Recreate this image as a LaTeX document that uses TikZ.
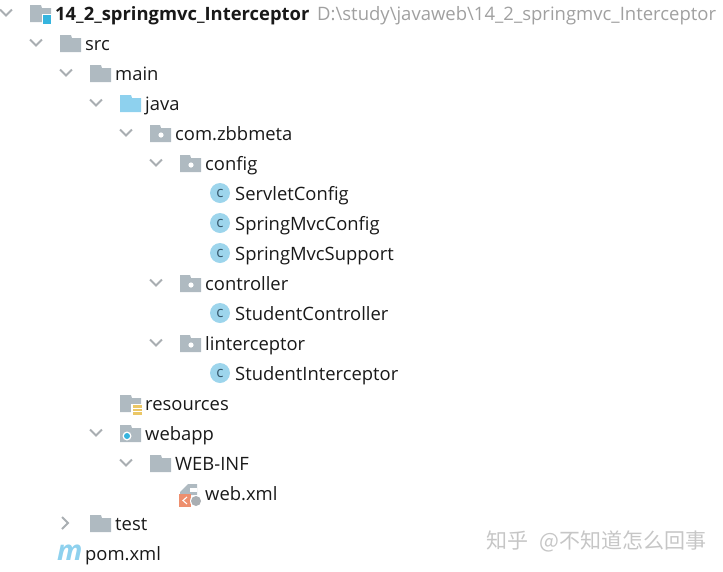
\documentclass[tikz,border=0pt]{standalone}
\usepackage{fontspec}
\setmainfont{Open Sans}
\newfontfamily\cjk{Noto Sans CJK SC}
\definecolor{foldergray}{HTML}{AFBAC1}
\definecolor{javablue}{HTML}{8ED1EE}
\definecolor{chevgray}{HTML}{A9AEB2}
\definecolor{classblue}{HTML}{9DD5EC}
\definecolor{classtext}{HTML}{35566A}
\definecolor{pathgray}{HTML}{A0A0A0}
\definecolor{markgray}{HTML}{C6C6C6}
\definecolor{xmlorange}{HTML}{EE8F6E}
\definecolor{rootblue}{HTML}{35B4DE}
\definecolor{resyellow}{HTML}{EBC766}
\tikzset{
    entry/.style={anchor=base west,inner sep=0pt,font=\fontsize{18.4pt}{20pt}\selectfont,text=black!90},
    chev/.style={draw=chevgray,line width=2pt,line cap=butt,line join=miter},
    pics/folderbox/.style={code={
        \fill[#1] (-10,-8) -- (1,-8) -- (2,-5) -- (11,-5) -- (11,9) -- (-10,9) -- cycle;
    }},
    pics/pkgbox/.style={code={
        \fill[foldergray] (-10,-8) -- (0,-8) -- (1,-5) -- (11,-5) -- (11,9) -- (-10,9) -- cycle;
        \fill[white] (1,2) circle (2.6);
    }},
    pics/classmark/.style={code={
        \fill[classblue] (0,0) circle (10);
        \node[inner sep=0pt,text=classtext,font=\fontsize{15pt}{15pt}\selectfont] {c};
    }},
    pics/chevdown/.style={code={
        \draw[chev] (-6,-3.5) -- (0,2.5) -- (6,-3.5);
    }},
    pics/chevright/.style={code={
        \draw[chev] (-3,-6) -- (3,0) -- (-3,6);
    }}
}
\begin{document}
\begin{tikzpicture}[x=1pt,y=-1pt]
    \useasboundingbox (0,0) rectangle (723,571);
    % arrows
    \pic at (6,13) {chevdown};
    \pic at (36,43) {chevdown};
    \pic at (66,73) {chevdown};
    \pic at (96,103) {chevdown};
    \pic at (126,133) {chevdown};
    \pic at (156,163) {chevdown};
    \pic at (156,283) {chevdown};
    \pic at (156,343) {chevdown};
    \pic at (96,433) {chevdown};
    \pic at (126,463) {chevdown};
    \pic at (65,523) {chevright};
    % root
    \pic at (40,13) {folderbox=foldergray};
    \fill[white] (42,14) rectangle (52,24);
    \fill[rootblue] (43,15) rectangle (51,24);
    \node[entry,font=\fontsize{18.4pt}{20pt}\selectfont\bfseries] (rootname) at (55,20) {14\_2\_springmvc\_Interceptor};
    \node[entry,text=pathgray,font=\fontsize{18.5pt}{20pt}\selectfont] (rootpath) at (317,20) {D:\textbackslash study\textbackslash javaweb\textbackslash 14\_2\_springmvc\_Interceptor};
    % folders
    \pic at (70,43) {folderbox=foldergray};
    \node[entry] (src) at (85,50) {src};
    \pic at (100,73) {folderbox=foldergray};
    \node[entry] (main) at (115,80) {main};
    \pic at (130,103) {folderbox=javablue};
    \node[entry] (java) at (145,110) {java};
    \pic at (160,133) {pkgbox};
    \node[entry] (zbbmeta) at (175,140) {com.zbbmeta};
    \pic at (190,163) {pkgbox};
    \node[entry] (config) at (205,170) {config};
    \pic at (220,193) {classmark};
    \node[entry] (servletconfig) at (235,200) {ServletConfig};
    \pic at (220,223) {classmark};
    \node[entry] (mvcconfig) at (235,230) {SpringMvcConfig};
    \pic at (220,253) {classmark};
    \node[entry] (mvcsupport) at (235,260) {SpringMvcSupport};
    \pic at (190,283) {pkgbox};
    \node[entry] (controller) at (205,290) {controller};
    \pic at (220,313) {classmark};
    \node[entry] (studentcontroller) at (235,320) {StudentController};
    \pic at (190,343) {pkgbox};
    \node[entry] (interceptor) at (205,350) {linterceptor};
    \pic at (220,373) {classmark};
    \node[entry] (studentinterceptor) at (235,380) {StudentInterceptor};
    % resources
    \pic at (130,403) {folderbox=foldergray};
    \fill[white] (131,404) rectangle (143,416);
    \fill[resyellow] (133,405) rectangle (142,415);
    \draw[white,line width=.7pt] (133,408) -- (142,408) (133,411) -- (142,411);
    \node[entry] (resources) at (145,410) {resources};
    % webapp
    \pic at (130,433) {folderbox=foldergray};
    \fill[white] (127,436) circle (4.5);
    \fill[rootblue] (127,436) circle (3);
    \node[entry] (webapp) at (145,440) {webapp};
    \pic at (160,463) {folderbox=foldergray};
    \node[entry] (webinf) at (175,470) {WEB-INF};
    % web.xml
    \fill[foldergray] (188,484) -- (197,484) -- (197,495) -- (180,495) -- (180,492) -- cycle;
    \fill[white] (190,488) rectangle (197,492);
    \fill[xmlorange] (179,494) rectangle (191,507);
    \draw[white,line width=1.1pt] (187,497) -- (183,500.5) -- (187,504);
    \fill[white] (196,501) circle (6);
    \fill[chevgray] (196,501) circle (5);
    \node[entry] (webxml) at (205,500) {web.xml};
    % rest
    \pic at (100,523) {folderbox=foldergray};
    \node[entry] (test) at (115,530) {test};
    \node[anchor=base west,inner sep=0pt,text=javablue,font=\fontsize{28pt}{28pt}\selectfont\bfseries\itshape] (mavenmark) at (57,560) {m};
    \node[entry] (pom) at (85,560) {pom.xml};
    % watermark
    \node[anchor=base west,inner sep=0pt,text=markgray,font=\cjk\fontsize{21pt}{22pt}\selectfont] (zhihu) at (486,548) {知乎};
    \node[anchor=base west,inner sep=0pt,text=markgray,font=\cjk\fontsize{21pt}{22pt}\selectfont] (author) at (539,548) {@不知道怎么回事};
\end{tikzpicture}
\end{document}
